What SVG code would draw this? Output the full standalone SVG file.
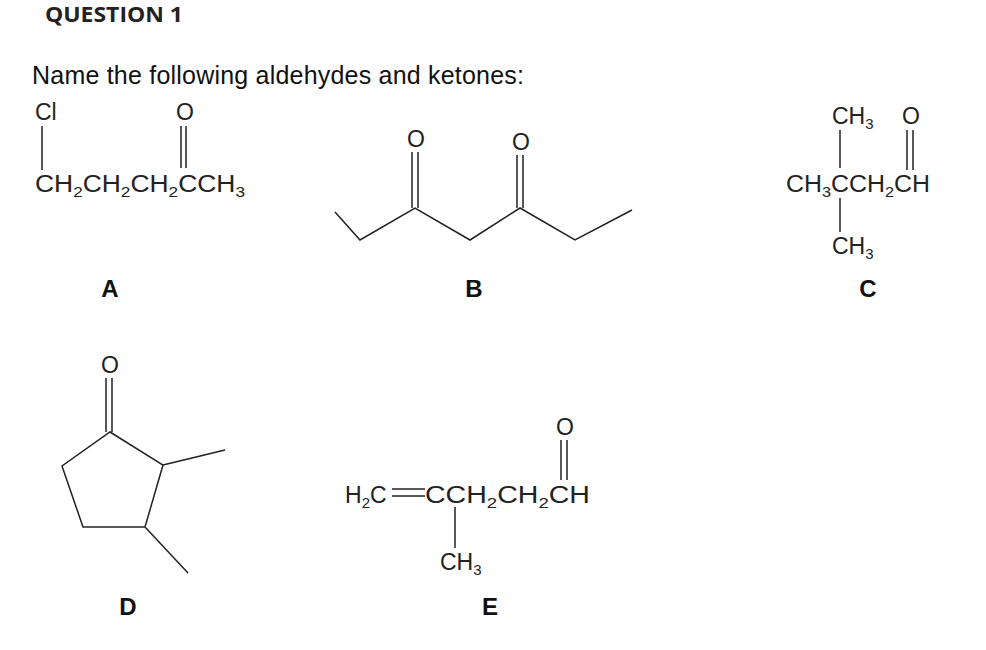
<svg xmlns="http://www.w3.org/2000/svg" width="986" height="650" viewBox="0 0 986 650">
<style>
.t{font-family:"Liberation Sans",Arial,sans-serif;font-size:23px;fill:#222}
.s{font-size:15px}
.b{stroke:#222;stroke-width:1.5;fill:none}
.l{font-family:"Liberation Sans",Arial,sans-serif;font-size:24px;font-weight:bold;fill:#111;text-anchor:middle}
</style>
<rect width="986" height="650" fill="#fff"/>
<text x="45" y="22" textLength="138" lengthAdjust="spacingAndGlyphs" style="font-family:'Open Sans',sans-serif;font-size:21px;font-weight:bold;fill:#222">QUESTION 1</text>
<text x="32" y="84" textLength="492" style="font-family:'Liberation Sans',Arial,sans-serif;font-size:25px;fill:#111">Name the following aldehydes and ketones:</text>
<g id="A">
<text class="t" x="35" y="120">Cl</text>
<text class="t" x="176" y="120">O</text>
<path class="b" d="M42 126V170M181 126V168M186 126V168"/>
<text class="t" x="35" y="192" textLength="210" lengthAdjust="spacingAndGlyphs">CH<tspan class="s" dy="5">2</tspan><tspan dy="-5">CH</tspan><tspan class="s" dy="5">2</tspan><tspan dy="-5">CH</tspan><tspan class="s" dy="5">2</tspan><tspan dy="-5">CCH</tspan><tspan class="s" dy="5">3</tspan></text>
<text class="l" x="110" y="297">A</text>
</g>
<g id="B">
<path class="b" d="M335 212L360 240L415 208L470 240L520 208L575 240L632 210M412 152V208M418 152V208M517 155V208M523 155V208"/>
<text class="t" x="407" y="147">O</text>
<text class="t" x="512" y="150">O</text>
<text class="l" x="474" y="297">B</text>
</g>
<g id="C">
<text class="t" x="832" y="124">CH<tspan class="s" dy="5">3</tspan></text>
<text class="t" x="902" y="124">O</text>
<path class="b" d="M840 130V168M840 198V232M907 130V170M913 130V170"/>
<text class="t" x="786" y="192" textLength="144" lengthAdjust="spacingAndGlyphs">CH<tspan class="s" dy="5">3</tspan><tspan dy="-5">CCH</tspan><tspan class="s" dy="5">2</tspan><tspan dy="-5">CH</tspan></text>
<text class="t" x="832" y="254">CH<tspan class="s" dy="5">3</tspan></text>
<text class="l" x="868" y="297">C</text>
</g>
<g id="D">
<text class="t" x="101" y="373">O</text>
<path class="b" d="M106 378V432M112 378V432M110 432L163 465L145 527L83 527L62 466Z M163 465L225 450M145 527L188 573"/>
<text class="l" x="128" y="615">D</text>
</g>
<g id="E">
<text class="t" x="345" y="503">H<tspan class="s" dy="5">2</tspan><tspan dy="-5">C</tspan></text>
<path class="b" d="M392 489H425M392 496H425M455 507V548M561 440V480M567 440V480"/>
<text class="t" x="425" y="503" textLength="165" lengthAdjust="spacingAndGlyphs">CCH<tspan class="s" dy="5">2</tspan><tspan dy="-5">CH</tspan><tspan class="s" dy="5">2</tspan><tspan dy="-5">CH</tspan></text>
<text class="t" x="556" y="435">O</text>
<text class="t" x="440" y="570">CH<tspan class="s" dy="5">3</tspan></text>
<text class="l" x="490" y="615">E</text>
</g>
</svg>
